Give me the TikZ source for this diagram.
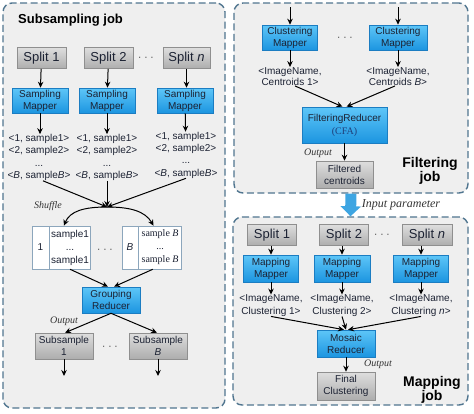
\documentclass[tikz,border=0pt]{standalone}
\usepackage{fontspec}
\setmainfont{Liberation Sans}
\newfontfamily\serifit{Liberation Serif}
\usetikzlibrary{arrows.meta,calc}
\definecolor{panelc}{HTML}{50758F}
\definecolor{panelfill}{HTML}{EFEFEF}
\definecolor{blueT}{HTML}{5EC6F8}
\definecolor{blueB}{HTML}{1C95E0}
\definecolor{blueD}{HTML}{1B7DC2}
\definecolor{grayT}{HTML}{DEDEDE}
\definecolor{grayB}{HTML}{ADADAD}
\definecolor{grayD}{HTML}{8F8F8F}
\definecolor{kvborder}{HTML}{8CA6BC}
\definecolor{txt}{HTML}{1C2233}
\definecolor{notec}{HTML}{333333}
\definecolor{fatarrow}{HTML}{3DA5E2}
\definecolor{cfa}{HTML}{1F3F7A}
\tikzset{
 panel/.style={draw=panelc, fill=panelfill, line width=1.4pt, dash pattern=on 7pt off 3.5pt, rounded corners=9pt, inner sep=0pt},
 bbox/.style={draw=blueD, top color=blueT, bottom color=blueB, text=txt, font=\fontsize{10}{12}\selectfont, align=center, inner sep=0pt, line width=0.6pt},
 gbox/.style={draw=grayD, top color=grayT, bottom color=grayB, text=txt, align=center, inner sep=0pt, line width=0.6pt, font=\fontsize{10}{12}\selectfont},
 splitbox/.style={gbox, font=\fontsize{13}{15}\selectfont, minimum width=49pt, minimum height=21pt},
 kv/.style={draw=kvborder, fill=white, inner sep=0pt, minimum height=43pt, align=center, font=\fontsize{10}{13}\selectfont, text=txt, line width=0.6pt},
 lbl/.style={font=\fontsize{10}{12.3}\selectfont, align=center, inner sep=0pt, text=txt},
 note/.style={font=\serifit\itshape\fontsize{10}{12}\selectfont, text=notec, inner sep=0pt},
 jobtitle/.style={font=\bfseries\fontsize{14}{14.5}\selectfont, align=center, inner sep=0pt},
 dotsnode/.style={font=\fontsize{10}{12}\selectfont, inner sep=0pt, text=notec},
 arr/.style={draw=black, line width=1pt, -{Stealth[length=6pt,width=5.5pt]}},
}
\begin{document}
\begin{tikzpicture}[x=1pt,y=-1pt]
\useasboundingbox (0,0) rectangle (474,413);
% ---------------- panels
\node[panel, minimum width=222pt, minimum height=405pt] (pL) at (114,205.5) {};
\node[panel, minimum width=234pt, minimum height=190pt] (pT) at (351,98) {};
\node[panel, minimum width=235pt, minimum height=188pt] (pB) at (350.5,311) {};

% ================= Subsampling job
\node[jobtitle, anchor=west, font=\bfseries\fontsize{13}{14}\selectfont] (tL) at (18,20) {Subsampling job};
\node[splitbox] (s1) at (41.5,58) {Split 1};
\node[splitbox] (s2) at (108.5,58) {Split 2};
\node[splitbox, minimum width=47pt] (sn) at (186.5,58) {Split \textit{n}};
\node[dotsnode] (d1) at (146,59) {· · ·};
\node[bbox, minimum width=56pt, minimum height=25pt] (m1) at (40,100.5) {Sampling\\Mapper};
\node[bbox, minimum width=56pt, minimum height=25pt] (m2) at (107,100.5) {Sampling\\Mapper};
\node[bbox, minimum width=56pt, minimum height=25pt] (m3) at (185,100.5) {Sampling\\Mapper};
\node[lbl] (t1) at (39,157.5) {<1, sample1>\\<2, sample2>\\...\\<\textit{B}, sample\textit{B}>};
\node[lbl] (t2) at (107,157.5) {<1, sample1>\\<2, sample2>\\...\\<\textit{B}, sample\textit{B}>};
\node[lbl] (t3) at (186,155) {<1, sample1>\\<2, sample2>\\...\\<\textit{B}, sample\textit{B}>};
\draw[arr] (s1) -- (m1);
\draw[arr] (s2) -- (m2);
\draw[arr] (sn.south) -- (m3.north -| sn.south);
\draw[arr] (m1) -- (t1.north -| m1.south);
\draw[arr] (m2) -- (t2);
\draw[arr] (m3) -- (t3);
\coordinate (meet) at (107,207);
\draw[arr] (t1.south) ++(4,0) -- (meet);
\draw[arr] (t2) -- (meet);
\draw[arr] (t3.south) -- (meet);
\node[note] (shuf) at (48,206) {Shuffle};
% key-value boxes
\node[kv, minimum width=17pt] (g1k) at (40.5,247.5) {1};
\node[kv, minimum width=41pt, anchor=west] (g1v) at (g1k.east) {sample1\\...\\sample1};
\node[kv, minimum width=16pt] (g2k) at (130,247.5) {\textit{B}};
\node[kv, minimum width=43pt, anchor=west, font=\serifit\fontsize{10}{13}\selectfont] (g2v) at (g2k.east) {sample \textit{B}\\...\\sample \textit{B}};
\node[dotsnode] (d2) at (105,251) {· · ·};
\coordinate (g1t) at ($(g1v.north west)!0.35!(g1v.north east)$);
\coordinate (g2t) at ($(g2v.north west)!0.35!(g2v.north east)$);
\draw[arr] (meet) .. controls (84,207) and (70,211) .. (g1t);
\draw[arr] (meet) .. controls (130,207) and (145,211) .. (g2t);
\node[bbox, minimum width=58pt, minimum height=26pt] (gr) at (111,300) {Grouping\\Reducer};
\coordinate (g1b) at ($(g1v.south west)!0.5!(g1v.south east)$);
\coordinate (g2b) at ($(g2v.south west)!0.33!(g2v.south east)$);
\draw[arr] (g1b) -- ($(gr.north)+(-3,0)$);
\draw[arr] (g2b) -- ($(gr.north)+(3,0)$);
\node[gbox, minimum width=58pt, minimum height=26pt] (sub1) at (64,346) {Subsample\\1};
\node[gbox, minimum width=58pt, minimum height=26pt] (subB) at (158,346) {Subsample\\\textit{B}};
\node[dotsnode] (d3) at (110,348) {· · ·};
\draw[arr] (gr.south) -- ($(sub1.north)+(1,0)$);
\draw[arr] (gr.south) -- ($(subB.north)+(-1,0)$);
\node[note] (outL) at (64,321) {Output};
\coordinate (o1) at (64,376);
\coordinate (o2) at (158,376);
\draw[arr] (sub1) -- (o1);
\draw[arr] (subB) -- (o2);

% ================= Filtering job
\coordinate (in1) at (290,7);
\coordinate (in2) at (398,7);
\node[bbox, minimum width=55pt, minimum height=25pt] (cm1) at (290,37.5) {Clustering\\Mapper};
\node[bbox, minimum width=58pt, minimum height=25pt] (cm2) at (398,37.5) {Clustering\\Mapper};
\node[dotsnode] (d4) at (345,39) {· · ·};
\draw[arr] (in1) -- (cm1);
\draw[arr] (in2) -- (cm2);
\node[lbl, font=\fontsize{10}{11.5}\selectfont] (ct1) at (290,76.5) {<ImageName,\\Centroids 1>};
\node[lbl, font=\fontsize{10}{11.5}\selectfont] (ct2) at (398,76.5) {<ImageName,\\Centroids \textit{B}>};
\draw[arr] (cm1) -- (ct1);
\draw[arr] (cm2) -- (ct2);
\node[bbox, minimum width=85pt, minimum height=36pt, font=\fontsize{10}{13}\selectfont] (fr) at (344.5,125) {FilteringReducer\\{\serifit\color{cfa}(CFA)}};
\draw[arr] (ct1.south) ++(5,0) -- ($(fr.north)+(-2,0)$);
\draw[arr] (ct2.south) ++(-3,0) -- ($(fr.north)+(2,0)$);
\node[gbox, minimum width=57pt, minimum height=27pt] (fc) at (344.5,174.5) {Filtered\\centroids};
\draw[arr] (fr) -- (fc);
\node[note] (outT) at (318,153) {Output};
\node[jobtitle] (tT) at (430,171) {Filtering\\job};

% fat arrow
\draw[fatarrow, line width=11pt, -{Triangle[length=10pt,width=20pt]}] (pT.south) -- (pB.north);
\node[note, font=\serifit\itshape\fontsize{12}{12}\selectfont] (ipl) at (401,205) {Input parameter};

% ================= Mapping job
\node[splitbox] (ms1) at (272,235) {Split 1};
\node[splitbox] (ms2) at (344,235) {Split 2};
\node[splitbox, minimum width=50pt] (msn) at (427,235) {Split \textit{n}};
\node[dotsnode] (d5) at (382,236) {· · ·};
\node[bbox, minimum width=55pt, minimum height=27pt] (mm1) at (271,268.5) {Mapping\\Mapper};
\node[bbox, minimum width=56pt, minimum height=27pt] (mm2) at (342,268.5) {Mapping\\Mapper};
\node[bbox, minimum width=55pt, minimum height=27pt] (mm3) at (421,268.5) {Mapping\\Mapper};
\node[lbl, font=\fontsize{10}{12.5}\selectfont] (mt1) at (271,305.5) {<ImageName,\\Clustering 1>};
\node[lbl, font=\fontsize{10}{12.5}\selectfont] (mt2) at (342,305.5) {<ImageName,\\Clustering 2>};
\node[lbl, font=\fontsize{10}{12.5}\selectfont] (mt3) at (421,305.5) {<ImageName,\\Clustering \textit{n}>};
\draw[arr] (ms1.south -| mm1.north) -- (mm1);
\draw[arr] (ms2.south -| mm2.north) -- (mm2);
\draw[arr] (msn.south -| mm3.north) -- (mm3);
\draw[arr] (mm1) -- (mt1);
\draw[arr] (mm2) -- (mt2);
\draw[arr] (mm3) -- (mt3);
\node[bbox, minimum width=58pt, minimum height=27pt] (mr) at (346,343.5) {Mosaic\\Reducer};
\draw[arr] (mt1.south) -- ($(mr.north)+(-2,0)$);
\draw[arr] (mt2.south) -- (mr.north);
\draw[arr] (mt3.south) -- ($(mr.north)+(2,0)$);
\node[gbox, minimum width=58pt, minimum height=28pt] (fcl) at (346,386) {Final\\Clustering};
\draw[arr] (mr) -- (fcl);
\node[note] (outB) at (378,364) {Output};
\node[jobtitle] (tB) at (432,390) {Mapping\\job};
\end{tikzpicture}
\end{document}
